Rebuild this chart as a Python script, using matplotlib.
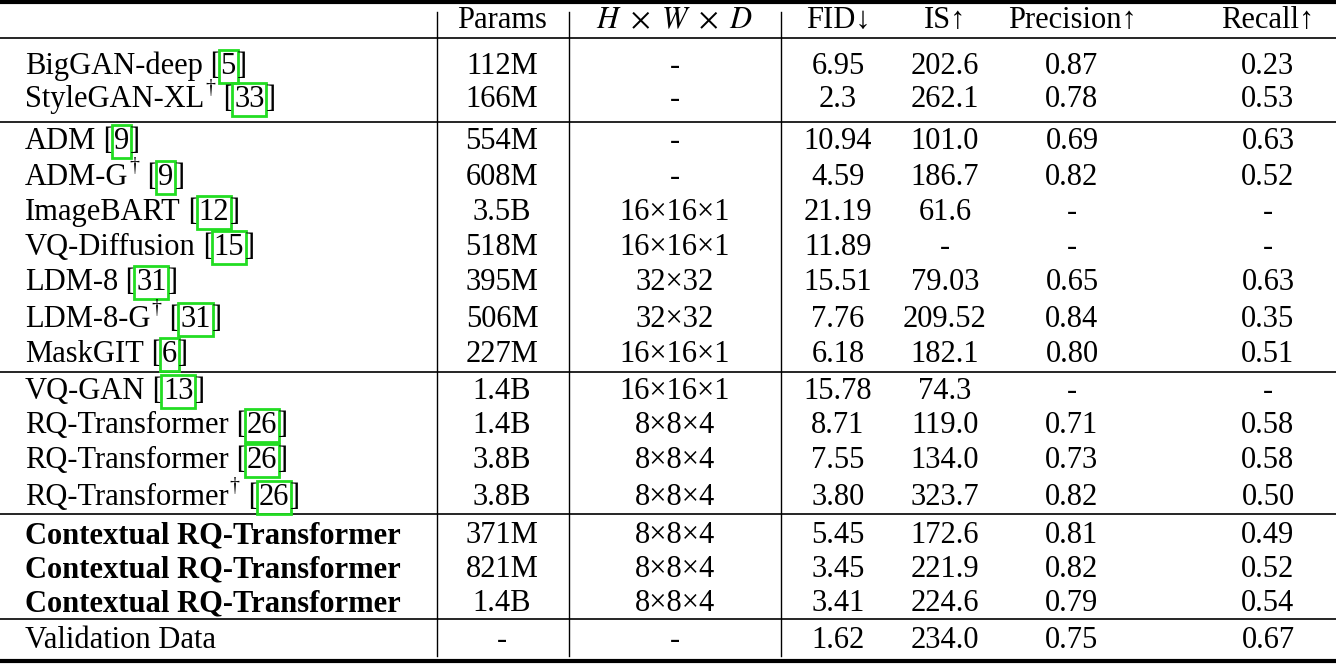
import matplotlib
matplotlib.use("Agg")
import matplotlib.pyplot as plt

plt.rcParams["font.family"] = ["Liberation Serif", "DejaVu Serif"]
plt.rcParams["mathtext.fontset"] = "stix"

headers = ["Params", r"$H\ \times\ W\ \times\ D$", "FID\u2193", "IS\u2191", "Precision\u2191", "Recall\u2191"]
# name, dagger, citation
names = [
    ("BigGAN-deep", False, "5"), ("StyleGAN-XL", True, "33"),
    ("ADM", False, "9"), ("ADM-G", True, "9"), ("ImageBART", False, "12"),
    ("VQ-Diffusion", False, "15"), ("LDM-8", False, "31"), ("LDM-8-G", True, "31"),
    ("MaskGIT", False, "6"),
    ("VQ-GAN", False, "13"), ("RQ-Transformer", False, "26"), ("RQ-Transformer", False, "26"),
    ("RQ-Transformer", True, "26"),
    ("Contextual RQ-Transformer", False, None), ("Contextual RQ-Transformer", False, None),
    ("Contextual RQ-Transformer", False, None),
    ("Validation Data", False, None),
]
params = ["112M", "166M", "554M", "608M", "3.5B", "518M", "395M", "506M", "227M",
          "1.4B", "1.4B", "3.8B", "3.8B", "371M", "821M", "1.4B", "-"]
hwd = ["-", "-", "-", "-", "16\u00d716\u00d71", "16\u00d716\u00d71", "32\u00d732", "32\u00d732",
       "16\u00d716\u00d71", "16\u00d716\u00d71", "8\u00d78\u00d74", "8\u00d78\u00d74", "8\u00d78\u00d74",
       "8\u00d78\u00d74", "8\u00d78\u00d74", "8\u00d78\u00d74", "-"]
fid = ["6.95", "2.3", "10.94", "4.59", "21.19", "11.89", "15.51", "7.76", "6.18",
       "15.78", "8.71", "7.55", "3.80", "5.45", "3.45", "3.41", "1.62"]
inception = ["202.6", "262.1", "101.0", "186.7", "61.6", "-", "79.03", "209.52", "182.1",
             "74.3", "119.0", "134.0", "323.7", "172.6", "221.9", "224.6", "234.0"]
precision = ["0.87", "0.78", "0.69", "0.82", "-", "-", "0.65", "0.84", "0.80",
             "-", "0.71", "0.73", "0.82", "0.81", "0.82", "0.79", "0.75"]
recall = ["0.23", "0.53", "0.63", "0.52", "-", "-", "0.63", "0.35", "0.51",
          "-", "0.58", "0.58", "0.50", "0.49", "0.52", "0.54", "0.67"]

row_y = [63, 96, 138, 174, 209, 244, 279, 316, 351, 388, 422, 457, 494, 532, 566, 600, 637]
col_x = [502, 675, 838, 945, 1072, 1268]
fs = 22

fig = plt.figure(figsize=(13.36, 6.65), dpi=100)
ax = fig.add_axes([0, 0, 1, 1])
ax.set_xlim(0, 1336)
ax.set_ylim(665, 0)
ax.axis("off")
fig.canvas.draw()
renderer = fig.canvas.get_renderer()


def width_px(t):
    return t.get_window_extent(renderer).width


# rules
for y, lw in [(2, 3), (38, 1.2), (122, 1.2), (372, 1.2), (514, 1.2), (619, 1.2), (661, 3)]:
    ax.plot([0, 1336], [y, y], color="black", lw=lw, solid_capstyle="butt")
for x in [437, 569, 781]:
    ax.plot([x, x], [12, 656], color="black", lw=1.0)

for x, h in zip(col_x, headers):
    ax.text(x, 28, h, fontsize=fs, ha="center", va="baseline")

for i, (name, dag, cite) in enumerate(names):
    y = row_y[i]
    bold = name.startswith("Contextual")
    t = ax.text(25, y, name, fontsize=fs, ha="left", va="center_baseline",
                fontweight="bold" if bold else "normal")
    x = 25 + width_px(t)
    if dag:
        d = ax.text(x + 1, y - 10, "\u2020", fontsize=fs * 0.65, ha="left", va="center_baseline")
        x += width_px(d) + 2
    if cite:
        b1 = ax.text(x, y, " [", fontsize=fs, ha="left", va="center_baseline")
        x += width_px(b1)
        c = ax.text(x, y, cite, fontsize=fs, ha="left", va="center_baseline",
                    bbox=dict(boxstyle="square,pad=0.06", fc="none", ec="#22dd22", lw=2))
        x += width_px(c) + 1
        ax.text(x, y, "]", fontsize=fs, ha="left", va="center_baseline")
    for cx, col in zip(col_x, [params, hwd, fid, inception, precision, recall]):
        ax.text(cx, y, col[i], fontsize=fs, ha="center", va="center_baseline")

fig.savefig("out.png", dpi=100)
